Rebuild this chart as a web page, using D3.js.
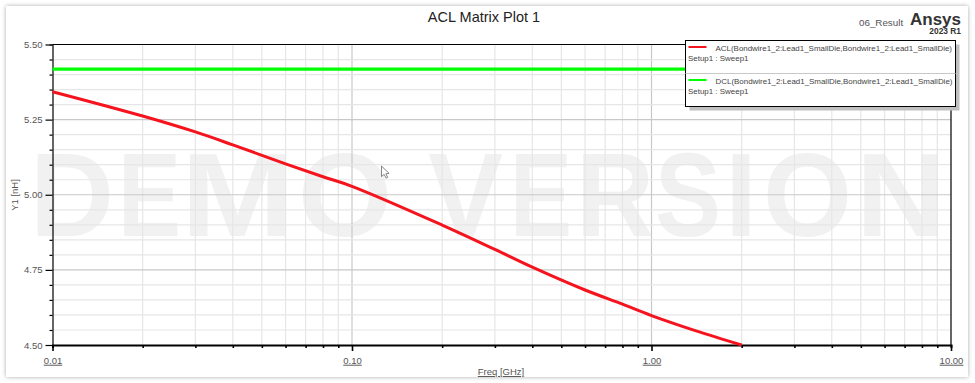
<!DOCTYPE html>
<html>

<head>
    <meta charset="utf-8">
    <title>ACL Matrix Plot 1</title>
    <style>
        html, body { margin: 0; padding: 0; background: #fff; }
        svg { display: block; font-family: "Liberation Sans", Arial, sans-serif; }
    </style>
</head>

<body>
    <script src="https://d3js.org/d3.v7.min.js"></script>
    <script>
        // values
        const freqAcl = [0.01, 0.02, 0.03, 0.04, 0.06, 0.08, 0.1, 0.2, 0.3, 0.4, 0.6, 0.8, 1.0, 1.4, 2.0];
        const acl = [5.343, 5.262, 5.209, 5.166, 5.103, 5.06, 5.028, 4.899, 4.818, 4.759, 4.683, 4.636, 4.598, 4.548, 4.5];
        const freqDcl = [0.01, 10];
        const dcl = [5.418, 5.418];
        const xTickLabels = ["0.01", "0.10", "1.00", "10.00"];
        const yTickLabels = ["4.50", "4.75", "5.00", "5.25", "5.50"];
        const legendNames = [
            "ACL(Bondwire1_2:Lead1_SmallDie,Bondwire1_2:Lead1_SmallDie)",
            "DCL(Bondwire1_2:Lead1_SmallDie,Bondwire1_2:Lead1_SmallDie)"
        ];
        const legendColors = ["#f5141e", "#00ff00"];

        // watermark letters, each with its left and right edge in the picture
        const watermarkLetters = ["D", "E", "M", "O", "V", "E", "R", "S", "I", "O", "N"];
        const watermarkLeft = [30, 118, 181, 298, 428, 510, 576, 655, 725, 763, 856];
        const watermarkRight = [114, 181, 294, 392, 503, 572, 654, 721, 757, 852, 946];

        const width = 975, height = 383;
        const margin = {top: 44.5, right: 24, bottom: 38, left: 52.5};
        const plotW = width - margin.left - margin.right;
        const plotH = height - margin.top - margin.bottom;

        const svg = d3.select("body").append("svg")
            .attr("width", width)
            .attr("height", height);

        const defs = svg.append("defs");
        defs.append("filter").attr("id", "panelShadow")
            .attr("x", "-2%").attr("y", "-3%").attr("width", "104%").attr("height", "106%")
            .append("feDropShadow")
            .attr("dx", 0).attr("dy", 0).attr("stdDeviation", 2)
            .attr("flood-color", "#888").attr("flood-opacity", 0.7);

        // panel
        svg.append("rect")
            .attr("x", 6).attr("y", 6)
            .attr("width", 962).attr("height", 371)
            .attr("fill", "#fff")
            .attr("filter", "url(#panelShadow)");

        // watermark, behind the grid
        svg.append("g").selectAll("text")
            .data(watermarkLetters)
            .join("text")
            .attr("x", (d, i) => watermarkLeft[i])
            .attr("y", 236)
            .attr("font-size", 119)
            .attr("font-weight", "bold")
            .attr("fill", "#f1f1f1")
            .attr("textLength", (d, i) => watermarkRight[i] - watermarkLeft[i])
            .attr("lengthAdjust", "spacingAndGlyphs")
            .text(d => d);

        // scales
        const scaleX = d3.scaleLog().domain([0.01, 10]).range([0, plotW]);
        const scaleY = d3.scaleLinear().domain([4.5, 5.5]).range([plotH, 0]);

        const plot = svg.append("g")
            .attr("transform", `translate(${margin.left}, ${margin.top})`);

        // grid
        const xMinor = scaleX.ticks().filter(d => d > 0.01 && d < 10);
        const xMajor = [0.1, 1];
        const yAll = d3.range(1, 20).map(i => 4.5 + i * 0.05);
        const isMajorY = d => Math.abs((d - 4.5) / 0.25 - Math.round((d - 4.5) / 0.25)) < 1e-6;

        plot.append("g").selectAll("line")
            .data(xMinor)
            .join("line")
            .attr("x1", d => scaleX(d)).attr("x2", d => scaleX(d))
            .attr("y1", 0).attr("y2", plotH)
            .attr("stroke", d => xMajor.some(m => Math.abs(m - d) < 1e-9) ? "#c8c8c8" : "#e6e6e6")
            .attr("stroke-width", 1.2);
        plot.append("g").selectAll("line")
            .data(yAll)
            .join("line")
            .attr("x1", 0).attr("x2", plotW)
            .attr("y1", d => scaleY(d)).attr("y2", d => scaleY(d))
            .attr("stroke", d => isMajorY(d) ? "#c8c8c8" : "#e6e6e6")
            .attr("stroke-width", 1.2);

        // axes
        const axisColor = "#000";
        const axisBottom = plot.append("g")
            .attr("transform", `translate(0, ${plotH})`)
            .call(d3.axisBottom(scaleX).tickValues(xMinor.filter(d => !xMajor.some(m => Math.abs(m - d) < 1e-9))).tickSize(3).tickFormat(""));
        axisBottom.select(".domain").attr("stroke", axisColor).attr("stroke-width", 2);
        axisBottom.selectAll(".tick line").attr("stroke-width", 1.6);

        const axisBottomMajor = plot.append("g")
            .attr("transform", `translate(0, ${plotH})`)
            .call(d3.axisBottom(scaleX).tickValues([0.01, 0.1, 1, 10]).tickSize(6).tickPadding(6)
                .tickFormat((d, i) => xTickLabels[i]));
        axisBottomMajor.select(".domain").remove();
        axisBottomMajor.selectAll(".tick line").attr("stroke-width", 1.6);
        axisBottomMajor.selectAll("text")
            .attr("font-family", "inherit")
            .attr("font-size", 9.5)
            .attr("fill", "#555")
            .attr("text-decoration", "underline");

        const axisLeft = plot.append("g")
            .call(d3.axisLeft(scaleY).tickValues(yAll.filter(d => !isMajorY(d))).tickSize(3).tickFormat(""));
        axisLeft.select(".domain").attr("stroke", axisColor).attr("stroke-width", 1.2);
        axisLeft.selectAll(".tick line").attr("stroke-width", 1.2);

        const axisLeftMajor = plot.append("g")
            .call(d3.axisLeft(scaleY).tickValues([4.5, 4.75, 5, 5.25, 5.5]).tickSize(7).tickPadding(3)
                .tickFormat((d, i) => yTickLabels[i]));
        axisLeftMajor.select(".domain").remove();
        axisLeftMajor.selectAll(".tick line").attr("stroke-width", 1.2);
        axisLeftMajor.selectAll("text")
            .attr("font-family", "inherit")
            .attr("font-size", 9.5)
            .attr("fill", "#555");

        // top and right border
        const border = plot.append("g").attr("stroke", "#000").attr("stroke-width", 1.2);
        border.append("line").attr("x1", 0).attr("x2", plotW).attr("y1", scaleY(5.5)).attr("y2", scaleY(5.5));
        border.append("line").attr("x1", plotW).attr("x2", plotW).attr("y1", 0).attr("y2", plotH);

        // curves
        const line = d3.line()
            .x(d => scaleX(d[0]))
            .y(d => scaleY(d[1]))
            .curve(d3.curveCatmullRom.alpha(0.5));

        plot.append("path")
            .datum(d3.zip(freqDcl, dcl))
            .attr("fill", "none")
            .attr("stroke", legendColors[1])
            .attr("stroke-width", 3.2)
            .attr("d", line);
        plot.append("path")
            .datum(d3.zip(freqAcl, acl))
            .attr("fill", "none")
            .attr("stroke", legendColors[0])
            .attr("stroke-width", 3)
            .attr("d", line);

        // mouse pointer left in the screenshot
        svg.append("path")
            .attr("transform", "translate(381.5, 166)")
            .attr("d", "M0 0 L0 10.5 L2.6 8.4 L4.6 12.2 L6.2 11.3 L4.3 7.8 L7.6 7.4 Z")
            .attr("fill", "#fff")
            .attr("stroke", "#666")
            .attr("stroke-width", 0.8);

        // title and labels
        svg.append("text")
            .attr("x", 484).attr("y", 22)
            .attr("text-anchor", "middle")
            .attr("font-size", 14.5)
            .attr("fill", "#222")
            .text("ACL Matrix Plot 1");
        svg.append("text")
            .attr("x", 501).attr("y", 375)
            .attr("text-anchor", "middle")
            .attr("font-size", 9.5)
            .attr("fill", "#555")
            .attr("text-decoration", "underline")
            .text("Freq [GHz]");
        svg.append("text")
            .attr("transform", "translate(18, 195) rotate(-90)")
            .attr("text-anchor", "middle")
            .attr("font-size", 9.5)
            .attr("fill", "#555")
            .text("Y1 [nH]");

        svg.append("text")
            .attr("x", 859).attr("y", 26)
            .attr("font-size", 9.8)
            .attr("fill", "#555")
            .text("06_Result");
        svg.append("text")
            .attr("x", 961).attr("y", 25)
            .attr("text-anchor", "end")
            .attr("font-size", 17)
            .attr("font-weight", "bold")
            .attr("fill", "#333")
            .text("Ansys");
        svg.append("text")
            .attr("x", 961).attr("y", 34)
            .attr("text-anchor", "end")
            .attr("font-size", 8.4)
            .attr("font-weight", "bold")
            .attr("fill", "#333")
            .text("2023 R1");

        // legend
        const legend = svg.append("g").attr("transform", "translate(685.5, 40.5)");
        legend.append("rect")
            .attr("x", 4).attr("y", 4)
            .attr("width", 270).attr("height", 66)
            .attr("fill", "#c0c0c0");
        legend.append("rect")
            .attr("width", 270).attr("height", 66)
            .attr("fill", "#fff")
            .attr("stroke", "#000")
            .attr("stroke-width", 1);
        legend.append("line")
            .attr("x1", 0).attr("x2", 270)
            .attr("y1", 33).attr("y2", 33)
            .attr("stroke", "#c8c8c8");
        const entries = legend.selectAll("g.entry")
            .data(legendNames)
            .join("g")
            .attr("class", "entry")
            .attr("transform", (d, i) => `translate(0, ${i * 33})`);
        entries.append("line")
            .attr("x1", 3).attr("x2", 21)
            .attr("y1", 6.5).attr("y2", 6.5)
            .attr("stroke", (d, i) => legendColors[i])
            .attr("stroke-width", 2);
        entries.append("text")
            .attr("x", 30).attr("y", 10)
            .attr("font-size", 7.95)
            .attr("fill", "#444")
            .text(d => d);
        entries.append("text")
            .attr("x", 2.5).attr("y", 20)
            .attr("font-size", 7.95)
            .attr("fill", "#444")
            .text("Setup1 : Sweep1");
    </script>
</body>

</html>
